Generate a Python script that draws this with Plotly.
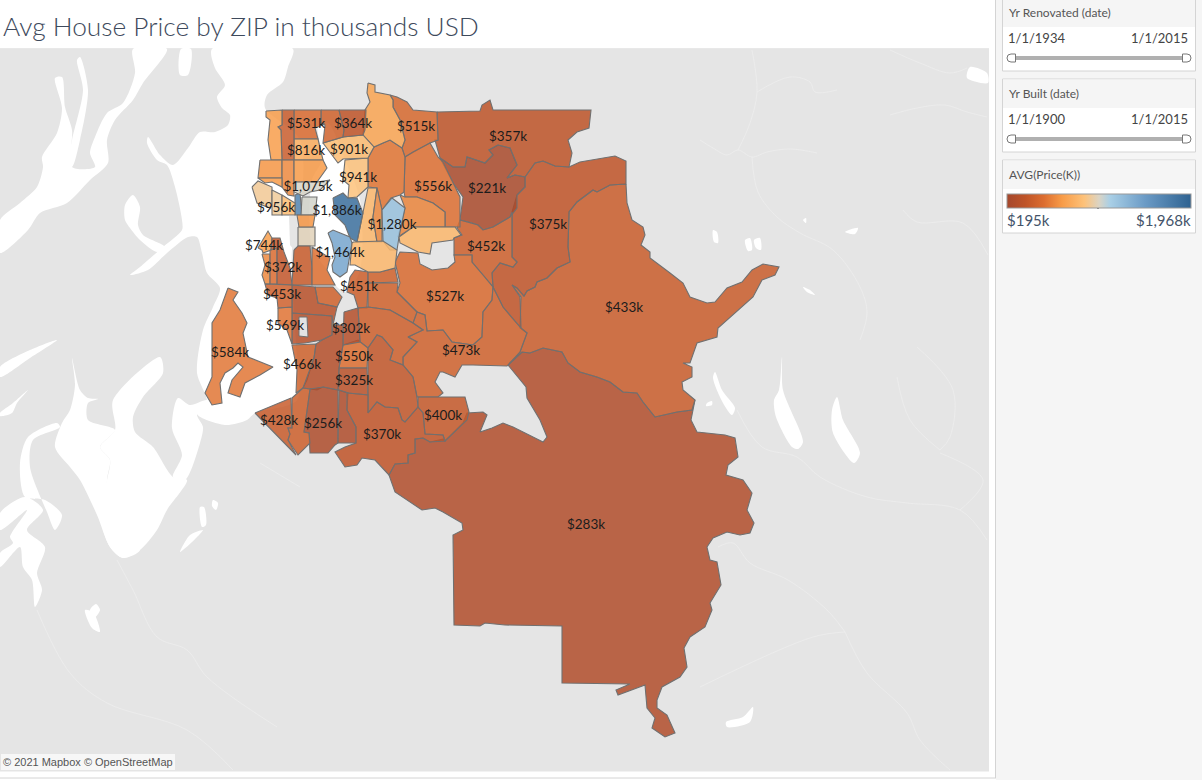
import plotly.graph_objects as go
from plotly.colors import sample_colorscale

# coordinates are read straight off the reference map, y grows downwards
price_min = 195
price_max = 1968
price_scale = [[0, '#a5482d'], [0.1, '#bf5428'], [0.2, '#dc6d30'], [0.3, '#f89c48'], [0.42, '#fdc27a'],
               [0.5, '#dbd4c4'], [0.56, '#a9cfe6'], [0.75, '#6b9bc6'], [1, '#2e6291']]

label_text = ['$531k', '$364k', '$515k', '$357k', '$816k', '$901k', '$941k', '$556k', '$221k', '$1,075k', '$956k',
              '$1,886k', '$1,280k', '$375k', '$452k', '$744k', '$1,464k', '$372k', '$451k', '$527k', '$433k', '$453k',
              '$569k', '$302k', '$584k', '$550k', '$466k', '$473k', '$325k', '$428k', '$256k', '$400k', '$370k', '$283k']
label_x = [306, 353, 416, 508, 306, 349, 358, 433, 487, 308, 276, 337, 392, 548, 486, 264, 340, 283, 359, 445, 624, 282,
           285, 351, 230, 354, 302, 461, 354, 279, 323, 443, 382, 586]
label_y = [125, 125, 128, 138, 152, 151, 179, 188, 190, 188, 209, 212, 226, 226, 248, 247, 254, 269, 288, 298, 309, 296,
           327, 330, 354, 358, 366, 352, 382, 422, 425, 417, 436, 526]

zip_prices = [283, 433, 375, 357, 221, 452, 527, 473, 515, 556, 640, 575, 880, 650, 1280, 880, 941, 1886, 1720, 1464,
              770, 901, 470, 364, 531, 816, 430, 740, 700, 650, 720, 720, 990, 1000, 900, 1090, 1100, 1060, 700,
              744, 650, 530, 372, 430, 560, 470, 451, 470, 470, 450, 550, 325, 385, 302, 320, 310, 569, 453, 466,
              300, 256, 428, 450, 260, 400, 370, 584, 880]
zip_outlines = [
    [(508, 365), (522, 352), (530, 353), (543, 348), (562, 352), (568, 363), (580, 372), (597, 377), (610, 382), (623, 392), (637, 393), (643, 402), (655, 417), (677, 412), (692, 410), (695, 400), (691, 420), (697, 432), (725, 435), (735, 438), (738, 457), (728, 465), (726, 475), (743, 480), (752, 493), (747, 510), (754, 523), (750, 533), (740, 535), (727, 532), (713, 538), (707, 547), (710, 560), (717, 562), (721, 585), (710, 603), (712, 610), (705, 627), (690, 637), (684, 648), (687, 667), (680, 677), (662, 687), (657, 700), (657, 708), (667, 715), (675, 733), (665, 737), (652, 728), (655, 718), (647, 708), (645, 685), (618, 695), (616, 690), (630, 684), (562, 683), (562, 626), (505, 625), (485, 623), (480, 626), (454, 625), (453, 535), (463, 530), (462, 523), (443, 512), (435, 508), (422, 510), (410, 502), (395, 492), (389, 475), (395, 464), (408, 463), (408, 455), (415, 453), (415, 439), (423, 438), (430, 442), (443, 439), (445, 441), (463, 423), (467, 413), (483, 412), (487, 415), (480, 432), (492, 428), (503, 423), (513, 427), (535, 438), (543, 442), (547, 437), (540, 420), (527, 398), (526, 387)],
    [(626, 184), (627, 203), (632, 220), (643, 227), (645, 235), (641, 245), (650, 252), (650, 258), (670, 273), (683, 283), (690, 297), (707, 303), (715, 302), (727, 288), (742, 282), (752, 270), (763, 264), (779, 267), (775, 275), (762, 280), (753, 297), (738, 310), (730, 317), (718, 328), (717, 337), (697, 343), (690, 363), (683, 363), (692, 367), (692, 377), (682, 382), (683, 390), (695, 400), (692, 410), (677, 412), (655, 417), (643, 402), (637, 393), (623, 392), (610, 382), (597, 377), (580, 372), (568, 363), (562, 352), (543, 348), (530, 353), (522, 352), (508, 365), (520, 352), (527, 333), (520, 328), (521, 297), (512, 285), (517, 288), (524, 296), (527, 291), (535, 287), (537, 282), (547, 278), (557, 268), (570, 262), (568, 247), (569, 212), (577, 202), (593, 190), (597, 192), (610, 185)],
    [(525, 177), (535, 163), (543, 161), (555, 166), (569, 167), (580, 162), (615, 156), (626, 161), (626, 184), (610, 185), (597, 192), (593, 190), (577, 202), (569, 212), (568, 247), (570, 262), (557, 268), (547, 278), (537, 282), (535, 287), (527, 291), (524, 296), (517, 288), (512, 285), (520, 297), (521, 328), (512, 318), (503, 307), (493, 287), (492, 273), (500, 263), (513, 267), (517, 262), (512, 257), (512, 212), (517, 195), (525, 187)],
    [(437, 112), (480, 111), (482, 105), (490, 100), (493, 110), (591, 110), (589, 128), (577, 132), (568, 140), (572, 153), (569, 167), (555, 166), (543, 161), (535, 163), (525, 177), (515, 175), (507, 178), (517, 165), (510, 148), (498, 145), (489, 150), (493, 155), (485, 163), (467, 157), (465, 167), (453, 167), (440, 158), (437, 148), (435, 140), (438, 140)],
    [(440, 158), (453, 167), (465, 167), (467, 157), (485, 163), (493, 155), (489, 150), (498, 145), (510, 148), (517, 165), (507, 178), (515, 175), (525, 177), (525, 187), (517, 195), (517, 208), (510, 217), (493, 227), (483, 230), (478, 225), (472, 223), (460, 220), (463, 197), (453, 183)],
    [(460, 220), (472, 223), (478, 225), (483, 230), (493, 227), (510, 217), (512, 212), (512, 257), (517, 262), (513, 267), (500, 263), (492, 273), (493, 287), (483, 275), (472, 262), (472, 255), (454, 255), (454, 238), (462, 235), (457, 228)],
    [(395, 262), (400, 252), (418, 253), (420, 264), (432, 270), (448, 268), (455, 262), (454, 255), (472, 255), (472, 262), (483, 275), (493, 287), (492, 300), (483, 312), (482, 337), (473, 345), (452, 342), (443, 330), (427, 331), (425, 315), (417, 312), (397, 292), (400, 283), (398, 275)],
    [(417, 312), (425, 315), (427, 331), (443, 330), (452, 342), (473, 345), (482, 337), (483, 312), (492, 300), (493, 287), (503, 307), (512, 318), (521, 328), (527, 333), (520, 352), (507, 366), (485, 365), (473, 365), (462, 365), (455, 377), (443, 372), (440, 372), (435, 382), (443, 393), (438, 397), (417, 397), (413, 377), (403, 365), (403, 357), (417, 342), (408, 337), (423, 330), (413, 323)],
    [(390, 95), (397, 97), (407, 102), (413, 110), (437, 112), (438, 140), (430, 143), (413, 152), (405, 157), (402, 148), (405, 140), (400, 120), (393, 107), (393, 100)],
    [(405, 157), (413, 152), (430, 143), (438, 157), (443, 162), (460, 197), (460, 227), (445, 227), (445, 212), (433, 203), (417, 197), (405, 197), (404, 192)],
    [(400, 195), (405, 197), (417, 197), (433, 203), (445, 212), (445, 227), (413, 227), (398, 237), (405, 208)],
    [(374, 147), (383, 143), (390, 140), (402, 148), (405, 157), (404, 192), (400, 195), (391, 198), (382, 210), (377, 188), (368, 187), (368, 158)],
    [(368, 188), (377, 188), (373, 217), (377, 242), (357, 242), (363, 213)],
    [(377, 188), (382, 210), (382, 242), (377, 242), (373, 217)],
    [(392, 198), (405, 208), (399, 237), (397, 250), (390, 250), (383, 241), (382, 210)],
    [(399, 237), (413, 227), (455, 227), (461, 235), (454, 238), (453, 240), (432, 243), (430, 254), (418, 252), (400, 243)],
    [(345, 160), (368, 158), (368, 187), (357, 197), (348, 198), (349, 185), (343, 180)],
    [(333, 198), (343, 193), (348, 198), (357, 198), (363, 213), (357, 242), (350, 238), (345, 225), (335, 215)],
    [(295, 195), (300, 193), (302, 215), (295, 215)],
    [(328, 233), (333, 230), (350, 237), (352, 243), (347, 272), (340, 277), (333, 272), (332, 265), (335, 257), (332, 243)],
    [(368, 83), (375, 85), (375, 92), (390, 95), (393, 100), (393, 107), (400, 120), (405, 140), (402, 148), (390, 140), (383, 143), (374, 147), (363, 135), (365, 110), (370, 102), (367, 93)],
    [(323, 143), (343, 137), (363, 135), (374, 147), (368, 158), (343, 159), (338, 163), (330, 152)],
    [(321, 110), (339, 110), (344, 130), (343, 137), (323, 143), (325, 125), (321, 123)],
    [(339, 110), (366, 110), (365, 130), (363, 135), (343, 137), (344, 130)],
    [(294, 110), (321, 110), (321, 123), (325, 124), (315, 128), (318, 139), (294, 139)],
    [(294, 139), (318, 139), (323, 160), (294, 160)],
    [(282, 110), (294, 110), (294, 160), (282, 160), (281, 130), (278, 127), (282, 125)],
    [(266, 111), (282, 110), (282, 125), (278, 127), (281, 130), (282, 160), (271, 160), (268, 140), (270, 120), (266, 117)],
    [(260, 160), (282, 160), (282, 178), (258, 178)],
    [(282, 160), (294, 160), (294, 196), (288, 195), (282, 187)],
    [(294, 160), (323, 160), (327, 168), (317, 182), (294, 182)],
    [(258, 178), (282, 178), (282, 187), (272, 182), (265, 183)],
    [(252, 187), (258, 181), (272, 187), (272, 205), (270, 208), (257, 203)],
    [(272, 190), (282, 195), (282, 215), (272, 215)],
    [(282, 195), (295, 203), (295, 215), (282, 215)],
    [(294, 182), (317, 182), (330, 180), (320, 190), (310, 192), (303, 196), (294, 192)],
    [(302, 197), (317, 197), (315, 215), (301, 215)],
    [(298, 227), (315, 227), (315, 246), (298, 246)],
    [(297, 215), (315, 215), (313, 227), (299, 227)],
    [(258, 248), (268, 231), (272, 238), (271, 250), (263, 253), (262, 250)],
    [(262, 254), (270, 254), (270, 284), (265, 284), (262, 275), (265, 265)],
    [(270, 250), (277, 248), (277, 284), (270, 284)],
    [(272, 238), (280, 238), (284, 252), (290, 268), (292, 285), (277, 284), (277, 248), (271, 250)],
    [(294, 250), (298, 246), (310, 246), (312, 268), (312, 285), (292, 285)],
    [(312, 247), (330, 258), (327, 270), (335, 285), (312, 285), (312, 268)],
    [(315, 287), (333, 287), (342, 297), (337, 307), (318, 303)],
    [(350, 277), (355, 270), (368, 272), (368, 283), (367, 308), (358, 308), (354, 295), (347, 292)],
    [(368, 272), (380, 272), (395, 268), (398, 282), (368, 283)],
    [(368, 283), (398, 283), (397, 292), (417, 312), (413, 323), (390, 310), (368, 307)],
    [(358, 308), (368, 307), (390, 310), (413, 323), (423, 330), (408, 337), (417, 342), (403, 357), (403, 365), (390, 360), (393, 350), (382, 337), (377, 335), (368, 348), (360, 342)],
    [(343, 345), (358, 340), (368, 348), (367, 368), (339, 368)],
    [(339, 368), (367, 368), (368, 395), (348, 393), (338, 390)],
    [(368, 348), (377, 335), (382, 337), (393, 350), (390, 360), (403, 365), (413, 377), (417, 397), (418, 407), (405, 422), (402, 420), (398, 408), (385, 407), (377, 402), (368, 413), (368, 395)],
    [(344, 312), (358, 308), (360, 342), (343, 345)],
    [(292, 285), (315, 287), (318, 303), (337, 307), (333, 325), (332, 316), (320, 315), (292, 313)],
    [(292, 313), (320, 315), (332, 316), (332, 335), (322, 340), (305, 343), (292, 344)],
    [(278, 308), (292, 307), (292, 344), (287, 330), (278, 323)],
    [(265, 284), (292, 285), (292, 307), (278, 308), (277, 298), (268, 295)],
    [(292, 345), (316, 344), (314, 358), (307, 380), (303, 388), (296, 393), (297, 370)],
    [(343, 325), (343, 345), (339, 368), (338, 390), (323, 387), (317, 390), (303, 388), (314, 358), (316, 344), (322, 340), (332, 335), (333, 325)],
    [(310, 389), (323, 387), (338, 390), (338, 443), (335, 445), (328, 453), (310, 453), (309, 433), (304, 432)],
    [(255, 413), (291, 398), (292, 428), (288, 428), (290, 434), (288, 440), (296, 455)],
    [(292, 398), (297, 393), (303, 388), (310, 389), (304, 432), (309, 433), (310, 443), (298, 455), (288, 440), (290, 434), (288, 428), (292, 428)],
    [(339, 390), (348, 393), (347, 410), (356, 427), (356, 443), (338, 443)],
    [(418, 397), (465, 397), (469, 412), (467, 420), (445, 441), (443, 435), (425, 434), (423, 413), (418, 407)],
    [(347, 393), (368, 395), (368, 413), (377, 402), (385, 407), (398, 408), (402, 420), (405, 422), (418, 407), (423, 413), (425, 434), (443, 435), (445, 441), (430, 442), (423, 438), (415, 439), (415, 453), (408, 455), (408, 463), (395, 464), (389, 475), (375, 460), (362, 458), (357, 465), (345, 467), (340, 460), (335, 452), (345, 447), (356, 443), (356, 427), (347, 410)],
    [(228, 288), (238, 292), (233, 300), (242, 313), (247, 323), (243, 333), (248, 357), (273, 367), (260, 375), (245, 383), (240, 397), (228, 393), (232, 380), (243, 367), (238, 363), (233, 368), (225, 373), (220, 383), (222, 403), (212, 405), (205, 393), (212, 377), (212, 323), (220, 310)],
    [(353, 242), (383, 241), (397, 250), (395, 268), (380, 272), (368, 272), (355, 265), (350, 265), (352, 243)],
]
# unfilled land inside the county
land_holes = [[(299, 317), (307, 317), (308, 337), (299, 336)]]
# land between the bay and the lake, no ZIP drawn on it
land_patches = [[(289, 216), (297, 216), (299, 226), (298, 246), (294, 250), (290, 245)]]

water_areas = [
    [(212, 49), (293, 49), (288, 67), (283, 82), (267, 95), (265, 108), (300, 140), (300, 215), (292, 250), (296, 345), (297, 400), (255, 413), (247, 420), (225, 425), (197, 414), (207, 402), (197, 373), (203, 330), (213, 307), (220, 288), (207, 273), (202, 253), (197, 237), (188, 237), (167, 253), (148, 270), (130, 275), (140, 267), (163, 247), (182, 230), (182, 220), (175, 187), (167, 165), (157, 160), (147, 143), (148, 137), (160, 155), (173, 165), (188, 148), (200, 132), (215, 132), (228, 125), (230, 115), (222, 108), (217, 97), (225, 85), (215, 68)],
    [(318, 125), (328, 123), (345, 160), (360, 200), (360, 270), (347, 292), (338, 288), (327, 270), (312, 247), (312, 180), (322, 160)],
    [(133, 49), (167, 49), (143, 83), (133, 100), (115, 120), (107, 140), (108, 163), (90, 180), (67, 203), (40, 213), (28, 230), (0, 253), (0, 220), (20, 203), (37, 187), (43, 167), (42, 157), (57, 133), (62, 108), (55, 78), (62, 77), (65, 107), (72, 130), (72, 167), (95, 167), (90, 153), (95, 137), (107, 113), (123, 103), (135, 73)],
    [(80, 57), (88, 90), (80, 140), (72, 167), (68, 165), (72, 140), (83, 90), (77, 60)],
    [(181, 49), (191, 49), (188, 75), (180, 75)],
    [(133, 195), (140, 207), (138, 225), (143, 235), (165, 247), (157, 252), (140, 240), (130, 228), (125, 220), (125, 205)],
    [(0, 367), (30, 350), (57, 340), (30, 358), (0, 377)],
    [(0, 413), (13, 403), (28, 390), (17, 403), (12, 413), (0, 416)],
    [(113, 400), (160, 357), (163, 373), (143, 397), (133, 417), (135, 432), (153, 447), (173, 477), (187, 480), (167, 510), (157, 530), (140, 550), (123, 558), (110, 547), (100, 515), (107, 480), (110, 460), (100, 447), (115, 430)],
    [(178, 398), (190, 405), (207, 400), (212, 405), (197, 414), (203, 427), (200, 443), (185, 480), (173, 477), (182, 455), (172, 428)],
    [(62, 423), (55, 447), (70, 467), (80, 480), (97, 515), (110, 547), (123, 558), (140, 550), (110, 520), (107, 480), (110, 460), (100, 447), (115, 430), (88, 420), (88, 403), (98, 399), (88, 398), (80, 390), (72, 358), (75, 385), (70, 410)],
    [(57, 423), (60, 427), (33, 440), (30, 467), (47, 512), (55, 530), (62, 515), (45, 500), (25, 497), (20, 463), (28, 437)],
    [(25, 497), (0, 513), (0, 530), (27, 510), (10, 537), (13, 543), (0, 553), (0, 567), (20, 547), (23, 567), (32, 580), (35, 607), (42, 590), (37, 573), (45, 547), (27, 530), (43, 510)],
    [(200, 507), (204, 507), (206, 525), (202, 527)],
    [(180, 552), (190, 535), (203, 530), (192, 542)],
    [(715, 372), (722, 390), (735, 408), (732, 415), (723, 403), (713, 378)],
    [(782, 357), (783, 390), (803, 442), (798, 449), (792, 447), (776, 417), (774, 400), (779, 390)],
    [(837, 397), (843, 420), (860, 453), (854, 463), (833, 433), (832, 410)],
    [(753, 707), (750, 722), (727, 727), (726, 722), (743, 717)],
    [(970, 67), (987, 73), (988, 83), (967, 78)],
    [(713, 230), (717, 232), (718, 243), (714, 242)],
    [(745, 240), (750, 238), (752, 250), (748, 251)],
    [(754, 240), (760, 238), (761, 250), (756, 248)],
    [(803, 287), (810, 290), (815, 295), (807, 292)],
    [(845, 232), (858, 228), (855, 234)],
    [(803, 220), (806, 218), (806, 223)],
    [(707, 403), (712, 401), (712, 405), (706, 406)],
    [(213, 500), (218, 503), (216, 510), (212, 506)],
    [(90, 610), (94, 618), (100, 610), (96, 604)],
    [(85, 610), (92, 628), (100, 632), (93, 612)],
]
river_lines = [
    [(700, 140), (713, 148), (727, 155), (738, 150), (752, 157), (767, 152), (790, 149), (817, 153)],
    [(890, 115), (917, 108), (945, 105), (967, 112), (987, 117)],
    [(757, 92), (790, 77), (810, 82), (815, 92), (837, 90)],
    [(752, 50), (757, 92), (750, 123), (738, 150)],
    [(752, 157), (758, 192), (777, 217), (800, 233), (833, 250), (860, 287), (867, 313), (860, 340)],
    [(903, 210), (917, 222), (963, 223), (988, 255)],
    [(890, 50), (920, 63), (950, 73), (967, 68)],
    [(700, 687), (813, 637), (845, 632)],
    [(845, 632), (867, 673), (907, 713), (920, 740), (950, 770)],
    [(718, 547), (733, 543), (750, 563), (788, 580), (827, 610), (845, 632)],
    [(737, 410), (762, 447), (797, 457), (820, 477), (867, 497), (907, 503), (960, 510), (987, 540)],
    [(940, 453), (983, 480), (960, 510)],
    [(897, 377), (910, 420), (940, 450)],
    [(917, 347), (953, 390), (950, 437), (940, 450)],
    [(117, 560), (133, 590), (157, 637), (187, 650), (207, 677), (277, 727)],
    [(260, 463), (300, 487)],
    [(37, 610), (70, 673), (107, 703), (187, 730), (233, 770)],
]

panel_titles = ['Yr Renovated (date)', 'Yr Built (date)', 'AVG(Price(K))']
slider_from = ['1/1/1934', '1/1/1900']
slider_to = ['1/1/2015', '1/1/2015']
legend_labels = ['$195k', '$1,968k']
credit = '© 2021 Mapbox © OpenStreetMap'


def price_color(price):
    pos = (price - price_min) / (price_max - price_min)
    rgb = sample_colorscale(price_scale, pos)[0]
    return rgb.replace('rgb(', 'rgba(').replace(')', ', 0.85)')


def outline(points):
    xs = [p[0] for p in points] + [points[0][0]]
    ys = [p[1] for p in points] + [points[0][1]]
    return xs, ys


data = []
for area in water_areas:
    xs, ys = outline(area)
    data.append(go.Scatter(x=xs, y=ys, mode='lines', fill='toself', fillcolor='white',
                           line=dict(width=0, shape='spline', smoothing=0.8), hoverinfo='skip'))
for patch in land_patches:
    xs, ys = outline(patch)
    data.append(go.Scatter(x=xs, y=ys, mode='lines', fill='toself', fillcolor='#e5e5e5', line=dict(width=0),
                           hoverinfo='skip'))
for river in river_lines:
    data.append(go.Scatter(x=[p[0] for p in river], y=[p[1] for p in river], mode='lines',
                           line=dict(color='#eeeeee', width=0.8, shape='spline'), hoverinfo='skip'))
for price, shape in zip(zip_prices, zip_outlines):
    xs, ys = outline(shape)
    data.append(go.Scatter(x=xs, y=ys, mode='lines', fill='toself', fillcolor=price_color(price),
                           line=dict(color='#707070', width=1.1), hoverinfo='skip'))
for hole in land_holes:
    xs, ys = outline(hole)
    data.append(go.Scatter(x=xs, y=ys, mode='lines', fill='toself', fillcolor='#e3e3e3',
                           line=dict(color='#707070', width=1), hoverinfo='skip'))

data.append(go.Scatter(x=label_x, y=label_y, text=label_text, mode='text', textposition='middle center',
                       textfont=dict(family='Lato', size=13.5, color='#1c1c1c'), hoverinfo='text'))

# invisible trace, only here to get the price legend bar
data.append(go.Scatter(x=[label_x[0]], y=[label_y[0]], mode='markers', hoverinfo='skip',
                       marker=dict(size=1, opacity=0, color=[price_min], cmin=price_min, cmax=price_max,
                                   colorscale=price_scale, showscale=True,
                                   colorbar=dict(orientation='h', x=1007 / 1202, xanchor='left', y=1 - 194 / 780,
                                                 yanchor='top', len=184, lenmode='pixels', thickness=14,
                                                 thicknessmode='pixels', xpad=0, ypad=0, ticks='',
                                                 showticklabels=False, outlinecolor='#999999', outlinewidth=1,
                                                 borderwidth=0))))

shapes = [
    dict(type='rect', x0=0, x1=989, y0=49, y1=771.5, fillcolor='#e5e5e5', line_width=0, layer='below'),
    dict(type='line', x0=0, x1=989, y0=48.5, y1=48.5, line=dict(color='#e8e8e8', width=1), layer='below'),
    dict(type='rect', x0=996, x1=1202, y0=0, y1=780, fillcolor='#f5f5f5', line_width=0, layer='below'),
    dict(type='line', x0=995.5, x1=995.5, y0=0, y1=778, line=dict(color='#d4d4d4', width=1), layer='below'),
    dict(type='line', x0=0, x1=996, y0=778, y1=778, line=dict(color='#d4d4d4', width=1), layer='below'),
    dict(type='rect', x0=1, x1=175, y0=754, y1=770, fillcolor='rgba(255,255,255,0.7)', line_width=0),
]
annotations = [
    dict(x=1, y=26, text='Avg House Price by ZIP in thousands USD', xanchor='left', yanchor='middle', showarrow=False,
         font=dict(family='Lato Light, Lato', size=26.3, color='#3e4a5c')),
    dict(x=1, y=762, text=credit, xanchor='left', yanchor='middle', showarrow=False,
         font=dict(family='Liberation Sans', size=11, color='#555555')),
]
# side panel cards: top, header bottom, bottom
cards = [(-2, 27, 71), (79, 108, 152), (160, 189, 233)]
for i, (top, head, bottom) in enumerate(cards):
    shapes.append(dict(type='rect', x0=1002.5, x1=1195.5, y0=top, y1=bottom, fillcolor='white',
                       line=dict(color='#d4d4d4', width=1), layer='below'))
    shapes.append(dict(type='rect', x0=1003, x1=1195, y0=top + 0.5, y1=head, fillcolor='#f5f5f5', line_width=0,
                       layer='below'))
    annotations.append(dict(x=1007, y=head - 15, text=panel_titles[i], xanchor='left', yanchor='middle',
                            showarrow=False, font=dict(family='Lato', size=12, color='#555555')))
for i, track_y in enumerate([58, 139]):
    shapes.append(dict(type='rect', x0=1015, x1=1183, y0=track_y - 2, y1=track_y + 2, fillcolor='#b0b0b0', line_width=0))
    shapes.append(dict(type='path', line=dict(color='#777777', width=1), fillcolor='white',
                       path=f'M 1015.5,{track_y - 4} L 1011,{track_y - 4} Q 1007,{track_y - 4} 1007,{track_y} '
                            f'Q 1007,{track_y + 4} 1011,{track_y + 4} L 1015.5,{track_y + 4} Z'))
    shapes.append(dict(type='path', line=dict(color='#777777', width=1), fillcolor='white',
                       path=f'M 1182.5,{track_y - 4} L 1187,{track_y - 4} Q 1191,{track_y - 4} 1191,{track_y} '
                            f'Q 1191,{track_y + 4} 1187,{track_y + 4} L 1182.5,{track_y + 4} Z'))
    annotations.append(dict(x=1006, y=track_y - 20, text=slider_from[i], xanchor='left', yanchor='middle',
                            showarrow=False, font=dict(family='Lato', size=13, color='#444444')))
    annotations.append(dict(x=1190, y=track_y - 20, text=slider_to[i], xanchor='right', yanchor='middle',
                            showarrow=False, font=dict(family='Lato', size=13, color='#444444')))
shapes.append(dict(type='line', x0=1098, x1=1098, y0=206, y1=209, line=dict(color='#111111', width=1)))
annotations.append(dict(x=1005, y=220, text=legend_labels[0], xanchor='left', yanchor='middle', showarrow=False,
                        font=dict(family='Lato', size=15, color='#44546a')))
annotations.append(dict(x=1193, y=220, text=legend_labels[1], xanchor='right', yanchor='middle', showarrow=False,
                        font=dict(family='Lato', size=15, color='#44546a')))

layout = go.Layout(width=1202, height=780, margin=dict(l=0, r=0, t=0, b=0), paper_bgcolor='white',
                   plot_bgcolor='white', showlegend=False, hovermode='closest',
                   xaxis=dict(range=[0, 1202], visible=False, fixedrange=True),
                   yaxis=dict(range=[780, 0], visible=False, fixedrange=True),
                   shapes=shapes, annotations=annotations)

fig = go.Figure(data=data, layout=layout)
fig.write_html('out.html', config=dict(displayModeBar=False), post_script="document.body.style.margin='0';")
